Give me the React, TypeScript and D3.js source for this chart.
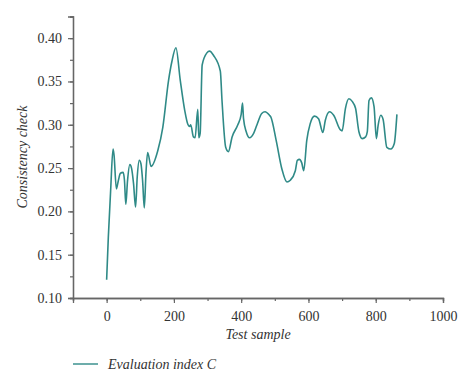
import React, { useRef, useEffect } from 'react'
import * as d3 from 'd3'

// Test sample index and consistency check value
const samples = [0, 5, 12, 19, 22, 29, 35, 41, 49, 53, 57, 62, 69, 74, 80, 86, 91, 97, 102, 107, 112, 117, 122, 132, 152, 167, 184, 194, 206, 219, 232, 242, 247, 250, 258, 263, 271, 274, 278, 284, 298, 306, 318, 338, 343, 354, 362, 373, 390, 400, 404, 407, 415, 425, 437, 447, 461, 471, 484, 488, 504, 521, 536, 546, 561, 567, 573, 580, 586, 595, 605, 618, 630, 643, 650, 663, 675, 695, 700, 710, 720, 730, 740, 750, 760, 770, 775, 780, 787, 795, 802, 807, 815, 822, 833, 845, 855, 863]
const values = [0.121, 0.17, 0.225, 0.272, 0.265, 0.226, 0.236, 0.244, 0.245, 0.236, 0.208, 0.235, 0.254, 0.25, 0.232, 0.205, 0.24, 0.259, 0.255, 0.235, 0.204, 0.245, 0.268, 0.252, 0.27, 0.297, 0.351, 0.373, 0.389, 0.351, 0.317, 0.3, 0.298, 0.3, 0.286, 0.285, 0.318, 0.285, 0.29, 0.369, 0.383, 0.385, 0.38, 0.362, 0.328, 0.274, 0.269, 0.286, 0.3, 0.312, 0.325, 0.307, 0.292, 0.285, 0.29, 0.3, 0.313, 0.315, 0.311, 0.309, 0.282, 0.249, 0.234, 0.236, 0.247, 0.259, 0.26, 0.256, 0.247, 0.282, 0.301, 0.31, 0.307, 0.291, 0.305, 0.315, 0.311, 0.294, 0.293, 0.319, 0.33, 0.327, 0.319, 0.292, 0.284, 0.286, 0.292, 0.328, 0.331, 0.321, 0.284, 0.299, 0.311, 0.306, 0.274, 0.272, 0.278, 0.312]

const xTicks = [0, 200, 400, 600, 800, 1000]
const yTicks = [0.1, 0.15, 0.2, 0.25, 0.3, 0.35, 0.4]
const seriesName = 'Evaluation index C'

const W = 474
const H = 386
const lineColor = '#2f8a87'
const axisColor = '#666'
const textColor = '#333'
const font = "'Liberation Serif', 'Times New Roman', 'DejaVu Serif', serif"

const App = () => {
    const svgRef = useRef<SVGSVGElement>(null)

    useEffect(() => {
        const svg = d3.select(svgRef.current)
        svg.selectAll('*').remove()

        const x = d3.scaleLinear().domain([-100, 1000]).range([73, 443])
        const y = d3.scaleLinear().domain([0.1, 0.425]).range([298, 16.5])

        const g = svg.append('g').attr('font-family', font)

        // minor ticks
        const xMinor = d3.axisBottom(x).tickValues(d3.range(-100, 1001, 100)).tickSize(3).tickFormat(() => '')
        const yMinor = d3.axisLeft(y).tickValues(d3.range(0.1, 0.426, 0.025)).tickSize(3).tickFormat(() => '')
        g.append('g').attr('transform', 'translate(0,298)').call(xMinor)
        g.append('g').attr('transform', 'translate(73,0)').call(yMinor)

        const xAxis = g.append('g').attr('transform', 'translate(0,298)')
            .call(d3.axisBottom(x).tickValues(xTicks).tickSize(5).tickPadding(5).tickFormat(d3.format('d')))
        const yAxis = g.append('g').attr('transform', 'translate(73,0)')
            .call(d3.axisLeft(y).tickValues(yTicks).tickSize(5).tickPadding(6).tickFormat(d3.format('.2f')))

        g.selectAll('g').attr('font-family', font).attr('font-size', 14)
        g.selectAll('.domain').attr('stroke', axisColor).attr('stroke-width', 1.3)
        g.selectAll('.tick line').attr('stroke', axisColor).attr('stroke-width', 1.2)
        ;[xAxis, yAxis].forEach(a => a.selectAll('text').attr('fill', textColor))
        xAxis.selectAll('text').attr('dy', '0.95em')

        const line = d3.line<number>()
            .x((_, i) => x(samples[i]))
            .y(d => y(d))
            .curve(d3.curveMonotoneX)

        g.append('path')
            .datum(values)
            .attr('d', line)
            .attr('fill', 'none')
            .attr('stroke', lineColor)
            .attr('stroke-width', 1.6)
            .attr('stroke-linejoin', 'round')

        g.append('text')
            .attr('x', 258).attr('y', 339)
            .attr('text-anchor', 'middle')
            .attr('fill', textColor)
            .attr('font-style', 'italic').attr('font-size', 14)
            .text('Test sample')

        g.append('text')
            .attr('transform', 'translate(27,157) rotate(-90)')
            .attr('text-anchor', 'middle')
            .attr('fill', textColor)
            .attr('font-style', 'italic').attr('font-size', 14)
            .text('Consistency check')

        // legend
        g.append('line')
            .attr('x1', 73).attr('x2', 98).attr('y1', 364).attr('y2', 364)
            .attr('stroke', lineColor).attr('stroke-width', 1.4)
        g.append('text')
            .attr('x', 108).attr('y', 369)
            .attr('fill', textColor)
            .attr('font-style', 'italic').attr('font-size', 14)
            .text(seriesName)
    }, [])

    return (
        <div style={{ position: 'absolute', left: 0, top: 0 }}>
            <svg ref={svgRef} width={W} height={H} style={{ display: 'block', background: '#fff' }} />
        </div>
    )
}

export default App
